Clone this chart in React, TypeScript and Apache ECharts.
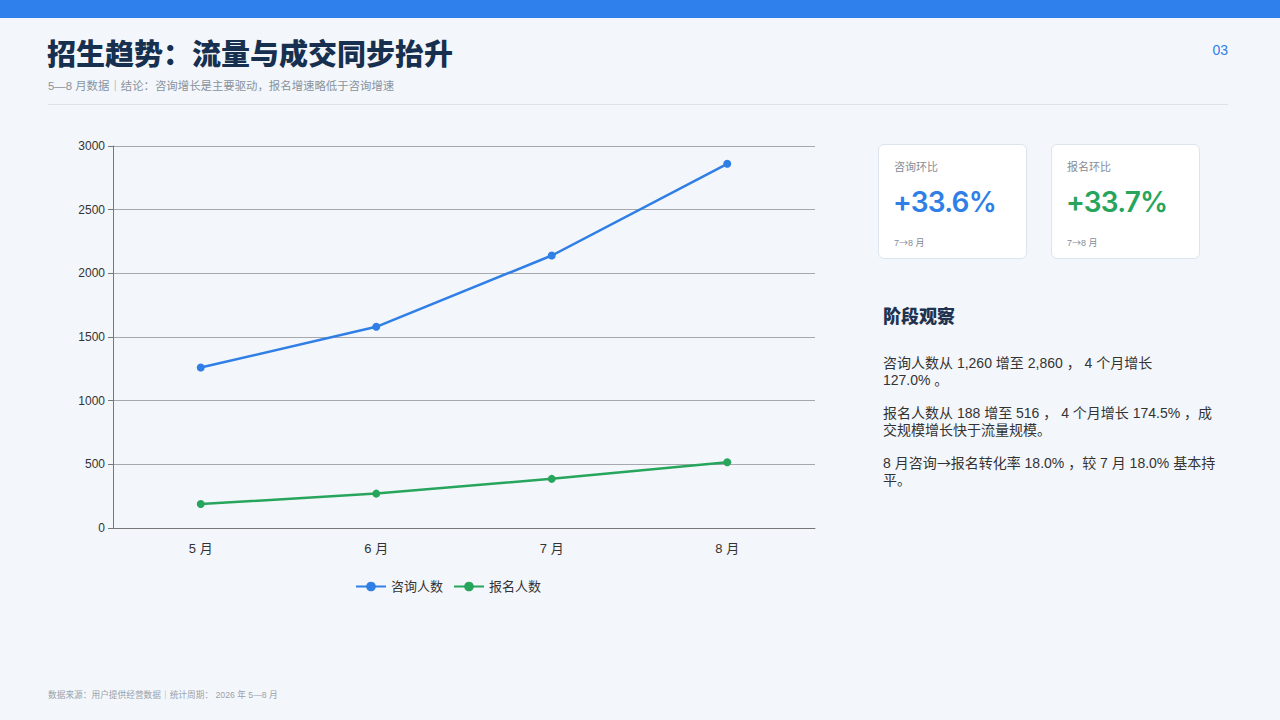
import { useEffect, useRef } from "react";
import * as echarts from "echarts";

const months = ["5 月", "6 月", "7 月", "8 月"];
const consults = [1260, 1580, 2140, 2860];
const enrolls = [188, 270, 386, 516];
const seriesNames = ["咨询人数", "报名人数"];

const kpis = [
  { label: "咨询环比", value: "+33.6%", note: "7→8 月", color: "#2f7fe6" },
  { label: "报名环比", value: "+33.7%", note: "7→8 月", color: "#27a55c" },
];

const notes = [
  "咨询人数从 1,260 增至 2,860 ， 4 个月增长 127.0%\u00a0。",
  "报名人数从 188 增至 516 ， 4 个月增长 174.5% ，成交规模增长快于流量规模。",
  "8 月咨询→报名转化率 18.0% ，较 7 月 18.0% 基本持平。",
];

// arrows come from the CJK font, the rest from Liberation Sans
const FONT_FACE = `@font-face {
  font-family: "CjkArrow";
  src: local("Noto Sans CJK SC"), local("Noto Sans CJK SC Regular"), local("NotoSansCJKsc-Regular");
  unicode-range: U+2190-21FF;
}`;
const FONT = "CjkArrow, 'Liberation Sans', 'Noto Sans CJK SC', sans-serif";
const CJK = "'Noto Sans CJK SC', sans-serif";
const BLUE = "#2f7fe6";
const GREEN = "#27a55c";

function TrendChart() {
  const ref = useRef<HTMLDivElement>(null);

  useEffect(() => {
    if (!ref.current) return;
    const chart = echarts.init(ref.current, undefined, { renderer: "svg" });
    chart.setOption({
      animation: false,
      textStyle: { fontFamily: "'Liberation Sans', 'Noto Sans CJK SC', sans-serif" },
      grid: { left: 65, top: 26, width: 702, height: 382 },
      legend: {
        top: 455,
        left: "center",
        itemWidth: 30,
        itemHeight: 12,
        itemGap: 10,
        textStyle: { fontSize: 13, color: "#333" },
        data: seriesNames,
      },
      xAxis: {
        type: "category",
        data: months,
        boundaryGap: true,
        axisLine: { lineStyle: { color: "#777" } },
        axisTick: { lineStyle: { color: "#777" } },
        axisLabel: { fontSize: 13, color: "#333", margin: 14 },
      },
      yAxis: {
        type: "value",
        min: 0,
        max: 3000,
        interval: 500,
        axisLine: { show: true, lineStyle: { color: "#777" } },
        axisTick: { show: true, lineStyle: { color: "#777" } },
        axisLabel: { fontSize: 12, color: "#333", formatter: (v: number) => String(v) },
        splitLine: { lineStyle: { color: "#a5a8ad" } },
      },
      series: [
        {
          name: seriesNames[0],
          type: "line",
          data: consults,
          symbol: "circle",
          symbolSize: 8,
          lineStyle: { width: 2.5, color: BLUE },
          itemStyle: { color: BLUE },
        },
        {
          name: seriesNames[1],
          type: "line",
          data: enrolls,
          symbol: "circle",
          symbolSize: 8,
          lineStyle: { width: 2.5, color: GREEN },
          itemStyle: { color: GREEN },
        },
      ],
    });
    return () => chart.dispose();
  }, []);

  return <div ref={ref} style={{ position: "absolute", left: 48, top: 120, width: 800, height: 500 }} />;
}

export default function App() {
  useEffect(() => {
    document.body.style.margin = "0";
  }, []);

  return (
    <div
      style={{
        position: "relative",
        width: 1280,
        height: 720,
        overflow: "hidden",
        background: "#f3f7fb",
        fontFamily: FONT,
      }}
    >
      <style>{FONT_FACE}</style>
      <div style={{ position: "absolute", left: 0, top: 0, width: 1280, height: 18, background: "#2f80ed" }} />
      <div
        style={{
          position: "absolute",
          left: 47,
          top: 32,
          fontSize: 29,
          lineHeight: "40px",
          fontWeight: 900,
          color: "#17304f",
          fontFamily: CJK,
        }}
      >
        招生趋势：流量与成交同步抬升
      </div>
      <div style={{ position: "absolute", right: 52, top: 41, fontSize: 14, lineHeight: "18px", color: BLUE }}>03</div>
      <div style={{ position: "absolute", left: 48, top: 78, fontSize: 11.4, lineHeight: "16px", color: "#8a929c" }}>
        5—8 月数据｜结论：咨询增长是主要驱动，报名增速略低于咨询增速
      </div>
      <div style={{ position: "absolute", left: 48, top: 104, width: 1180, height: 1, background: "#dbe2ea" }} />

      <TrendChart />

      {kpis.map((k, i) => (
        <div
          key={k.label}
          style={{
            position: "absolute",
            left: 878 + i * 173,
            top: 144,
            width: 147,
            height: 113,
            background: "#fff",
            border: "1px solid #dce4ee",
            borderRadius: 6,
            boxSizing: "content-box",
          }}
        >
          <div style={{ position: "absolute", left: 15, top: 14, fontSize: 11, lineHeight: "16px", color: "#858c96" }}>
            {k.label}
          </div>
          <div
            style={{
              position: "absolute",
              left: 14,
              top: 37,
              fontSize: 28,
              lineHeight: "40px",
              fontWeight: 600,
              color: k.color,
              fontFamily: "Inter, 'Liberation Sans', sans-serif",
              letterSpacing: -0.8,
            }}
          >
            {k.value}
          </div>
          <div style={{ position: "absolute", left: 15, top: 91, fontSize: 9, lineHeight: "14px", color: "#858c96" }}>
            {k.note}
          </div>
        </div>
      ))}

      <div
        style={{
          position: "absolute",
          left: 883,
          top: 303,
          fontSize: 18,
          lineHeight: "24px",
          fontWeight: 900,
          color: "#1f3350",
          fontFamily: CJK,
        }}
      >
        阶段观察
      </div>
      <div style={{ position: "absolute", left: 883, top: 355, width: 335, fontSize: 14, lineHeight: "17px", color: "#333" }}>
        {notes.map((n) => (
          <p key={n} style={{ margin: "0 0 16px 0" }}>
            {n}
          </p>
        ))}
      </div>

      <div style={{ position: "absolute", left: 48, top: 689, fontSize: 8.7, lineHeight: "12px", color: "#9aa1aa" }}>
        数据来源：用户提供经营数据｜统计周期： 2026 年 5—8 月
      </div>
    </div>
  );
}
